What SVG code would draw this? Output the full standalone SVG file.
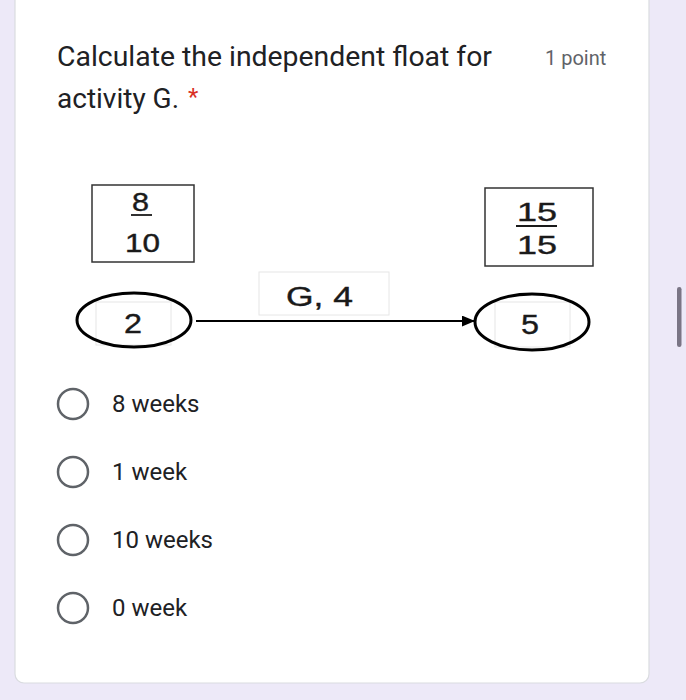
<svg xmlns="http://www.w3.org/2000/svg" width="686" height="700" viewBox="0 0 686 700">
<defs>
<style>
.q{font-family:Roboto,"Liberation Sans",sans-serif;fill:#202124}
.d{font-family:"Liberation Sans",Arial,sans-serif;fill:#1a1a1a;stroke:#1a1a1a;stroke-width:0.4}
.box{fill:#fff;stroke:#333;stroke-width:1.5}
.faint{fill:none;stroke:#e6e6e6;stroke-width:1}
.ev{fill:none;stroke:#000;stroke-width:3}
.radio{fill:none;stroke:#5f6368;stroke-width:2.5}
</style>
<marker id="ah" viewBox="0 0 12 10" refX="12" refY="5" markerWidth="13" markerHeight="11" markerUnits="userSpaceOnUse" orient="auto"><path d="M0,0 L12,5 L0,10 Z" fill="#000"/></marker>
</defs>
<rect x="0" y="0" width="686" height="700" fill="#ede9f8"/>
<rect x="15" y="-20" width="634" height="703" rx="9" fill="#fff" stroke="#dadce0" stroke-width="1.2"/>
<rect x="677" y="287" width="4.5" height="60" rx="2.2" fill="#7a7585"/>
<g id="question">
<text class="q" x="57" y="66" font-size="28" textLength="435" lengthAdjust="spacingAndGlyphs">Calculate the independent float for</text>
<text class="q" x="57" y="108" font-size="28">activity G.</text>
<text x="188" y="105" font-family="Roboto,'Liberation Sans',sans-serif" font-size="24" fill="#d93025">*</text>
<text x="545" y="65" font-family="Roboto,'Liberation Sans',sans-serif" font-size="20" fill="#5f6368">1 point</text>
</g>
<g id="box-8-10">
<rect class="box" x="92" y="185" width="102" height="77"/>
<text class="d" x="132" y="211" font-size="25" textLength="17" lengthAdjust="spacingAndGlyphs">8</text>
<line x1="131" y1="215" x2="152" y2="215" stroke="#1a1a1a" stroke-width="1.8"/>
<text class="d" x="125" y="252" font-size="25" textLength="35" lengthAdjust="spacingAndGlyphs">10</text>
</g>
<g id="box-15-15">
<rect class="box" x="485" y="188" width="108" height="78"/>
<text class="d" x="517" y="221" font-size="26" textLength="40" lengthAdjust="spacingAndGlyphs">15</text>
<line x1="516" y1="226" x2="557" y2="226" stroke="#1a1a1a" stroke-width="1.8"/>
<text class="d" x="517" y="254" font-size="26" textLength="40" lengthAdjust="spacingAndGlyphs">15</text>
</g>
<g id="connectors">
<line x1="196" y1="321" x2="475" y2="321" stroke="#000" stroke-width="2" marker-end="url(#ah)"/>
</g>
<g id="label-G4">
<rect class="faint" x="259" y="272" width="130" height="43"/>
<text class="d" x="286" y="306" font-size="27" textLength="67" lengthAdjust="spacingAndGlyphs">G, 4</text>
</g>
<g id="node-2">
<rect class="faint" x="96" y="302" width="75" height="43"/>
<ellipse class="ev" cx="134" cy="320" rx="57" ry="27"/>
<text class="d" x="124" y="333" font-size="28" textLength="18" lengthAdjust="spacingAndGlyphs">2</text>
</g>
<g id="node-5">
<rect class="faint" x="495" y="302" width="75" height="45"/>
<ellipse class="ev" cx="532" cy="322" rx="57" ry="28"/>
<text class="d" x="521" y="334" font-size="28" textLength="18" lengthAdjust="spacingAndGlyphs">5</text>
</g>
<g id="options">
<circle class="radio" cx="73" cy="404" r="15"/>
<text class="q" x="112" y="412" font-size="24">8 weeks</text>
<circle class="radio" cx="73" cy="472" r="15"/>
<text class="q" x="112" y="480" font-size="24">1 week</text>
<circle class="radio" cx="73" cy="540" r="15"/>
<text class="q" x="112" y="548" font-size="24">10 weeks</text>
<circle class="radio" cx="73" cy="608" r="15"/>
<text class="q" x="112" y="616" font-size="24">0 week</text>
</g>
</svg>
